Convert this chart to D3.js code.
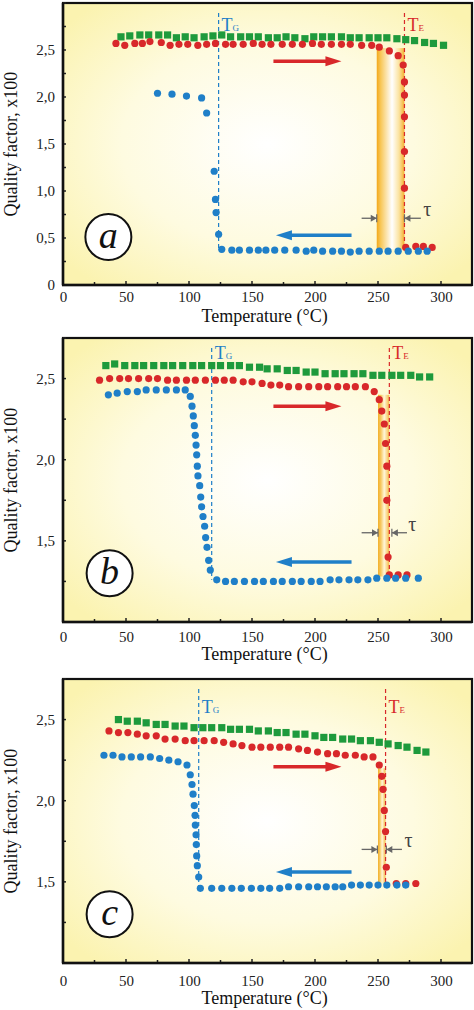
<!DOCTYPE html>
<html><head><meta charset="utf-8">
<script src="https://cdn.jsdelivr.net/npm/d3@7"></script>
<style>body{margin:0;background:#fff}svg{display:block}text{font-family:"Liberation Serif","DejaVu Serif",serif}</style>
</head><body>
<script>
// ---------- data ----------
const xTicks=[0,50,100,150,200,250,300];
const yTicksA=[0,0.5,1.0,1.5,2.0,2.5];
const yTicksBC=[1.5,2.0,2.5];

const aGreenT=[46,53,61,68,76,83,90,97,104,112,119,126,133,141,148,155,163,170,177,184,192,199,206,213,221,228,235,243,250,257,265,272,279,287,294,302];
const aGreenQ=[2.64,2.65,2.66,2.66,2.66,2.66,2.63,2.64,2.63,2.64,2.65,2.66,2.64,2.64,2.64,2.64,2.63,2.63,2.64,2.63,2.62,2.64,2.64,2.64,2.64,2.63,2.63,2.63,2.63,2.63,2.62,2.61,2.60,2.58,2.57,2.55];
const aRedT=[42,49,57,63,69,78,85,92,99,107,114,121,129,135,143,151,158,165,174,182,190,198,205,213,221,228,237,245,251,259,266,270,271,271,271,271,271,272,280,286,293];
const aRedQ=[2.57,2.55,2.57,2.57,2.59,2.58,2.55,2.56,2.56,2.55,2.56,2.57,2.56,2.56,2.56,2.57,2.56,2.56,2.56,2.56,2.56,2.57,2.56,2.56,2.56,2.56,2.55,2.55,2.53,2.49,2.44,2.34,2.16,2.02,1.79,1.42,1.03,0.40,0.41,0.41,0.40];
const aBlueT=[75,86.5,98,110,114,120,121,121.5,123.5,126,134,140,148,155,161,168,176,185,193,199,206,214,221,228,235,243,251,258,266,274,282,289];
const aBlueQ=[2.04,2.03,2.01,1.99,1.83,1.21,0.91,0.77,0.54,0.38,0.37,0.37,0.37,0.37,0.37,0.37,0.37,0.37,0.36,0.37,0.36,0.36,0.36,0.35,0.36,0.36,0.36,0.36,0.36,0.36,0.36,0.36];

const bGreenT=[34,41,49,57,64,72,80,87,95,103,110,118,125,133,140,148,156,162,170,178,185,193,200,208,216,223,231,238,246,253,261,268,276,283,291];
const bGreenQ=[2.58,2.59,2.58,2.58,2.58,2.58,2.58,2.58,2.58,2.58,2.58,2.58,2.58,2.58,2.58,2.57,2.57,2.56,2.56,2.55,2.55,2.54,2.54,2.53,2.53,2.53,2.53,2.53,2.52,2.52,2.52,2.52,2.52,2.51,2.51];
const bRedT=[29,37,45,52,60,68,75,83,90,98,105,113,121,128,135,143,150,158,165,172,179,187,195,203,210,218,225,232,240,247,251,253,255,256,257,257,258,259,266,273];
const bRedQ=[2.49,2.50,2.50,2.50,2.50,2.50,2.50,2.49,2.49,2.49,2.49,2.49,2.49,2.49,2.49,2.48,2.48,2.47,2.46,2.46,2.45,2.45,2.45,2.45,2.45,2.45,2.45,2.45,2.45,2.42,2.37,2.30,2.22,2.10,1.96,1.75,1.40,1.29,1.29,1.29];
const bBlueT=[36,43,51,59,66,74,82,90,97,101,102.4,103.4,104.2,105,105.6,106.1,106.6,107.1,108.5,109.3,110,111.1,112.4,113.2,114.3,115.6,116.9,122,129,136,144,152,159,167,174,182,189,197,204,212,219,227,234,242,249,257,264,272,282];
const bBlueQ=[2.40,2.41,2.42,2.42,2.43,2.43,2.43,2.43,2.43,2.39,2.33,2.27,2.21,2.15,2.09,2.03,1.96,1.90,1.84,1.77,1.71,1.65,1.59,1.52,1.46,1.38,1.32,1.26,1.25,1.25,1.25,1.25,1.25,1.25,1.25,1.25,1.25,1.25,1.25,1.26,1.26,1.26,1.26,1.26,1.27,1.27,1.27,1.27,1.27];

const cGreenT=[44,51,59,66,74,81,89,96,104,111,118,126,133,140,148,155,163,170,177,185,192,200,207,214,222,229,236,244,251,258,266,273,281,288];
const cGreenQ=[2.50,2.49,2.49,2.48,2.47,2.47,2.46,2.46,2.45,2.45,2.45,2.45,2.44,2.44,2.44,2.43,2.43,2.42,2.42,2.41,2.41,2.40,2.39,2.39,2.38,2.38,2.37,2.37,2.36,2.35,2.34,2.33,2.31,2.30];
const cRedT=[36.5,44,51.5,59,66,74,81,89,97,104,112,120,127.5,135,142,150,157,164.5,172,179,187,194,202,210,217,224,232,239,246,251,253,254,255,256,256.6,264.5,272,280];
const cRedQ=[2.43,2.42,2.42,2.41,2.40,2.40,2.38,2.38,2.37,2.37,2.37,2.37,2.36,2.35,2.34,2.33,2.33,2.33,2.33,2.33,2.32,2.31,2.30,2.29,2.29,2.28,2.28,2.27,2.27,2.22,2.15,2.07,1.94,1.81,1.59,1.49,1.49,1.49];
const cBlueT=[32.5,39.7,46.8,54.2,61.6,69.3,76.7,84,91.3,98.4,101,102.4,103.2,104.2,104.8,105,105.6,105.8,106.1,106.6,107.7,109,118,126,134,141.5,149.5,157,164,172,179,187,195,202,209,216,222,229,236,243,250,257,265,272];
const cBlueQ=[2.28,2.28,2.27,2.27,2.27,2.27,2.26,2.25,2.24,2.22,2.16,2.10,2.04,1.97,1.91,1.85,1.79,1.73,1.66,1.60,1.53,1.46,1.46,1.46,1.46,1.46,1.46,1.46,1.46,1.46,1.47,1.47,1.47,1.47,1.47,1.47,1.47,1.48,1.48,1.48,1.48,1.48,1.48,1.48];

const panelLetters=["a","b","c"];

// ---------- drawing ----------
const W=474,H=1010;
const svg=d3.select("body").append("svg").attr("width",W).attr("height",H);
const defs=svg.append("defs");
const bg=defs.append("radialGradient").attr("id","bg").attr("cx","50%").attr("cy","50%").attr("r","65%");
bg.append("stop").attr("offset","0%").attr("stop-color","#ffffff");
bg.append("stop").attr("offset","55%").attr("stop-color","#fefbe0");
bg.append("stop").attr("offset","100%").attr("stop-color","#fbf3b0");
const bandA=defs.append("linearGradient").attr("id","bandA");
[["0%","#f3a81a"],["15%","#f8c85a"],["55%","#ffffff"],["80%","#fbe3a0"],["100%","#f4b030"]].forEach(s=>bandA.append("stop").attr("offset",s[0]).attr("stop-color",s[1]));
const bandB=defs.append("linearGradient").attr("id","bandB");
[["0%","#f3b02a"],["25%","#f6c860"],["55%","#fff6d8"],["100%","#f5bb45"]].forEach(s=>bandB.append("stop").attr("offset",s[0]).attr("stop-color",s[1]));

const GREEN="#1e9a3c",RED="#d8282a",BLUE="#1f7fc8",SERIF="Liberation Serif, DejaVu Serif, serif";

const panels=[
 {top:3,bottom:285,yd:[0,3.0],yt:yTicksA,minor:d3.range(0,3.01,0.25),g:[aGreenT,aGreenQ],r:[aRedT,aRedQ],b:[aBlueT,aBlueQ],
  tg:123.5,tgLow:0.38,te:271,teLow:0.40,band:[249,271,2.52,0.38],bandFill:"url(#bandA)",labY:2.77,
  ra:[167,221,2.38],ba:[229,169,0.53],tau:[237,249,271,284,0.71],tauL:[286,0.80],circ:[36,0.51],xl:298,tl:318},
 {top:338,bottom:622,yd:[1.0,2.75],yt:yTicksBC,minor:d3.range(1.0,2.76,0.25),g:[bGreenT,bGreenQ],r:[bRedT,bRedQ],b:[bBlueT,bBlueQ],
  tg:118,tgLow:1.26,te:259,teLow:1.29,band:[250,259,2.40,1.28],bandFill:"url(#bandB)",labY:2.66,
  ra:[167,221,2.33],ba:[229,169,1.37],tau:[237,250,261,273,1.55],tauL:[274,1.60],circ:[37,1.30],xl:638,tl:656},
 {top:679,bottom:963,yd:[1.0,2.75],yt:yTicksBC,minor:d3.range(1.0,2.76,0.25),g:[cGreenT,cGreenQ],r:[cRedT,cRedQ],b:[cBlueT,cBlueQ],
  tg:107.7,tgLow:1.47,te:256,teLow:1.49,band:[250,256,2.20,1.49],bandFill:"url(#bandB)",labY:2.58,
  ra:[167,221,2.21],ba:[229,169,1.56],tau:[237,249.5,256.6,269,1.70],tauL:[271,1.75],circ:[37,1.30],xl:982,tl:1000}
];

const fmt=d=>d===0?"0":d3.format(".1f")(d).replace(".",",");

panels.forEach((p,i)=>{
  const x=d3.scaleLinear().domain([0,324.6]).range([63,472]);
  const y=d3.scaleLinear().domain(p.yd).range([p.bottom,p.top]);
  const g=svg.append("g");
  g.append("rect").attr("x",63).attr("y",p.top).attr("width",409).attr("height",p.bottom-p.top)
   .attr("fill","url(#bg)").attr("stroke","#111").attr("stroke-width",2.2);
  g.append("rect").attr("x",x(p.band[0])).attr("width",x(p.band[1])-x(p.band[0]))
   .attr("y",y(p.band[2])).attr("height",y(p.band[3])-y(p.band[2])).attr("fill",p.bandFill);
  const xa=d3.axisBottom(x).tickValues(xTicks).tickSize(0).tickFormat(d3.format("d"));
  const ax=g.append("g").attr("transform",`translate(0,${p.bottom})`).call(xa);
  ax.attr("font-family",null);
  ax.select(".domain").remove();
  ax.selectAll("text").style("font-family",SERIF).attr("font-size",15).attr("fill","#222").attr("dy",0).attr("y",p.xl-p.bottom+4);
  g.selectAll(".xt").data(d3.range(25,325,25)).join("line").attr("x1",d=>x(d)).attr("x2",d=>x(d))
   .attr("y1",p.bottom).attr("y2",d=>p.bottom-(d%50===0?4:3)).attr("stroke","#222").attr("stroke-width",1.5);
  g.selectAll(".yt").data(p.minor).join("line").attr("x1",63).attr("x2",66).attr("y1",d=>y(d)).attr("y2",d=>y(d))
   .attr("stroke","#222").attr("stroke-width",1.5);
  const ya=d3.axisLeft(y).tickValues(p.yt).tickSize(0).tickFormat(fmt);
  const ay=g.append("g").attr("transform","translate(63,0)").call(ya);
  ay.attr("font-family",null);
  ay.select(".domain").remove();
  ay.selectAll("text").style("font-family",SERIF).attr("font-size",15).attr("fill","#222").attr("x",-8);
  g.append("line").attr("x1",62).attr("x2",472).attr("y1",p.bottom).attr("y2",p.bottom).attr("stroke","#111").attr("stroke-width",2.5);
  g.append("line").attr("x1",63).attr("x2",63).attr("y1",p.top).attr("y2",p.bottom).attr("stroke","#111").attr("stroke-width",2.5);
  g.append("text").attr("x",x(160)).attr("y",p.tl+4).attr("text-anchor","middle").style("font-family",SERIF).attr("font-size",18).attr("fill","#111").text("Temperature (°C)");
  g.append("text").attr("transform",`translate(17,${(p.top+p.bottom)/2}) rotate(-90)`).attr("text-anchor","middle")
   .style("font-family",SERIF).attr("font-size",18).attr("fill","#111").text("Quality factor, x100");
  g.append("line").attr("x1",x(p.tg)).attr("x2",x(p.tg)).attr("y1",p.top+10).attr("y2",y(p.tgLow)).attr("stroke",BLUE).attr("stroke-width",1.2).attr("stroke-dasharray","4,3");
  g.append("line").attr("x1",x(p.te)).attr("x2",x(p.te)).attr("y1",p.top+10).attr("y2",y(p.teLow)).attr("stroke",RED).attr("stroke-width",1.2).attr("stroke-dasharray","4,3");
  const tgT=g.append("text").attr("x",x(p.tg)+3).attr("y",y(p.labY)+6).style("font-family",SERIF).attr("font-size",18).attr("fill",BLUE);
  tgT.append("tspan").text("T");tgT.append("tspan").attr("font-size",9).text("G");
  const teT=g.append("text").attr("x",x(p.te)+3).attr("y",y(p.labY)+6).style("font-family",SERIF).attr("font-size",18).attr("fill",RED);
  teT.append("tspan").text("T");teT.append("tspan").attr("font-size",9).text("E");
  g.selectAll(".gs").data(p.g[0].map((t,k)=>[t,p.g[1][k]])).join("rect").attr("x",d=>x(d[0])-3.6).attr("y",d=>y(d[1])-3.6)
   .attr("width",7.2).attr("height",7.2).attr("fill",GREEN);
  g.selectAll(".rc").data(p.r[0].map((t,k)=>[t,p.r[1][k]])).join("circle").attr("cx",d=>x(d[0])).attr("cy",d=>y(d[1])).attr("r",3.6).attr("fill",RED);
  g.selectAll(".bc").data(p.b[0].map((t,k)=>[t,p.b[1][k]])).join("circle").attr("cx",d=>x(d[0])).attr("cy",d=>y(d[1])).attr("r",3.6).attr("fill",BLUE);
  function arrow(x0,x1,yy,col){
    const dir=Math.sign(x1-x0),X0=x(x0),X1=x(x1),Y=y(yy);
    g.append("line").attr("x1",X0).attr("x2",X1-dir*12).attr("y1",Y).attr("y2",Y).attr("stroke",col).attr("stroke-width",3.5);
    g.append("path").attr("d",`M${X1},${Y} L${X1-dir*16},${Y-5} L${X1-dir*16},${Y+5} Z`).attr("fill",col);
  }
  arrow(p.ra[0],p.ra[1],p.ra[2],RED);
  arrow(p.ba[0],p.ba[1],p.ba[2],BLUE);
  function small(x0,x1,yy){
    const dir=Math.sign(x1-x0),X1=x(x1),Y=y(yy);
    g.append("line").attr("x1",x(x0)).attr("x2",X1).attr("y1",Y).attr("y2",Y).attr("stroke","#666").attr("stroke-width",1.3);
    g.append("path").attr("d",`M${X1},${Y} L${X1-dir*6},${Y-3.5} L${X1-dir*6},${Y+3.5} Z`).attr("fill","#666");
    g.append("line").attr("x1",X1).attr("x2",X1).attr("y1",Y-4).attr("y2",Y+4).attr("stroke","#666").attr("stroke-width",1.2);
  }
  small(p.tau[0],p.tau[1],p.tau[4]);
  small(p.tau[3],p.tau[2],p.tau[4]);
  g.append("text").attr("x",x(p.tauL[0])).attr("y",y(p.tauL[1])+6).style("font-family",SERIF).attr("font-size",20).attr("fill","#444").text("τ");
  g.append("circle").attr("cx",x(p.circ[0])).attr("cy",y(p.circ[1])).attr("r",23).attr("fill","#fff").attr("stroke","#111").attr("stroke-width",2);
  g.append("text").attr("x",x(p.circ[0])).attr("y",y(p.circ[1])+11).attr("text-anchor","middle").style("font-family",SERIF)
   .attr("font-style","italic").attr("font-size",38).attr("fill","#111").text(panelLetters[i]);
});
</script>
</body></html>
